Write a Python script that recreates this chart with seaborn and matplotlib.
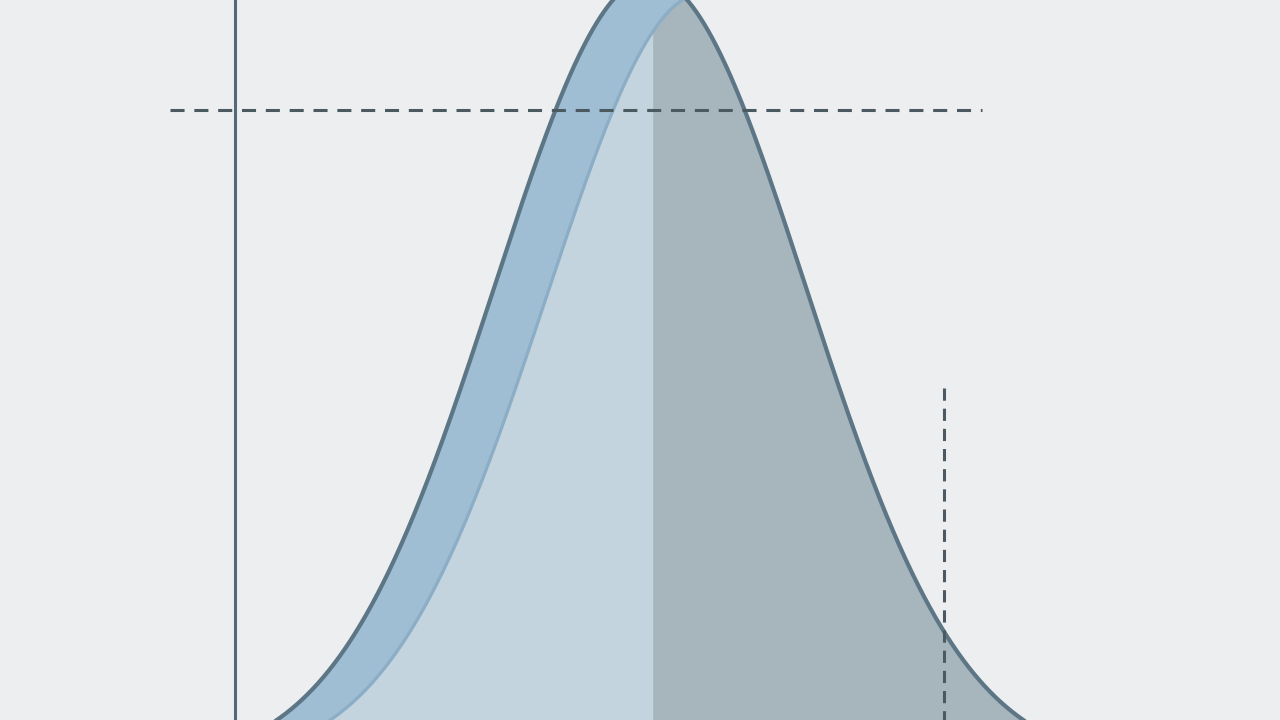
import numpy as np
import pandas as pd
import matplotlib
matplotlib.use("Agg")
import matplotlib.pyplot as plt
import seaborn as sns

# ---- values (standard-normal units) ----
mean = 0.0            # centre of the main curve
sd = 1.0              # spread of the main curve
shift = 0.335         # shift of the second (inner) curve, in sd
inner_scale = 0.98    # relative height of the inner curve
split_at = 0.02       # where the light-blue area turns grey
h_level = 0.332       # density level of the horizontal dashed line
h_span = [-3.08, 2.13]          # horizontal dashed line extent (z)
v_solid_at = -2.66              # solid vertical line position (z)
v_dash_at = 1.885               # dashed vertical line position (z)
v_dash_top = 0.191              # top of dashed vertical line (density)
x_view = [-4.167, 4.038]
y_view = [0.0228, 0.3878]

# ---- colours ----
bg = "#eceef0"
c_light = "#c3d4df"
c_band = "#9fbdd3"
c_grey = "#a7b5bc"
c_outline = "#5d7686"
c_inner = "#8badc5"
c_dash = "#4b5961"
c_solid = "#536878"

sns.set_theme(style="white")

z = np.linspace(x_view[0] - 0.2, x_view[1] + 0.2, 3000)
z = np.sort(np.append(z, split_at))
outer = np.exp(-((z - mean) / sd) ** 2 / 2) / (sd * np.sqrt(2 * np.pi))
inner = inner_scale * np.exp(-((z - mean - shift) / sd) ** 2 / 2) / (sd * np.sqrt(2 * np.pi))
df = pd.DataFrame({"z": z, "outer": outer, "inner": inner})

fig = plt.figure(figsize=(12.8, 7.2), dpi=100, facecolor=bg)
ax = fig.add_axes([0, 0, 1, 1])
ax.set_facecolor(bg)

# whole area light blue, right part grey on top (no seam)
ax.fill_between(df["z"], 0, df["outer"], color=c_light, lw=0, zorder=1)
right = df[df["z"] >= split_at]
ax.fill_between(right["z"], 0, right["outer"], color=c_grey, lw=0, zorder=1.5)

band = df["outer"] >= df["inner"]
ax.fill_between(df["z"], df["inner"], df["outer"], where=band, interpolate=True,
                color=c_band, lw=0, zorder=2)

sub = df[band & (df["z"] < 1)]
sns.lineplot(data=sub, x="z", y="inner", color=c_inner, lw=2.3, ax=ax, zorder=3,
             sort=False, estimator=None)
sns.lineplot(data=df, x="z", y="outer", color=c_outline, lw=3.0, ax=ax, zorder=4,
             sort=False, estimator=None)

ax.plot(h_span, [h_level, h_level], color=c_dash, lw=2.2, ls=(0, (4.6, 3.2)), zorder=5)
ax.plot([v_dash_at, v_dash_at], [v_dash_top, y_view[0] - 0.01], color=c_dash, lw=2.2,
        ls=(0, (4.0, 2.6)), zorder=5)
ax.axvline(v_solid_at, color=c_solid, lw=2.2, zorder=5)

ax.set_xlim(*x_view)
ax.set_ylim(*y_view)
ax.set_axis_off()

fig.savefig("out.png", dpi=100, facecolor=bg)
